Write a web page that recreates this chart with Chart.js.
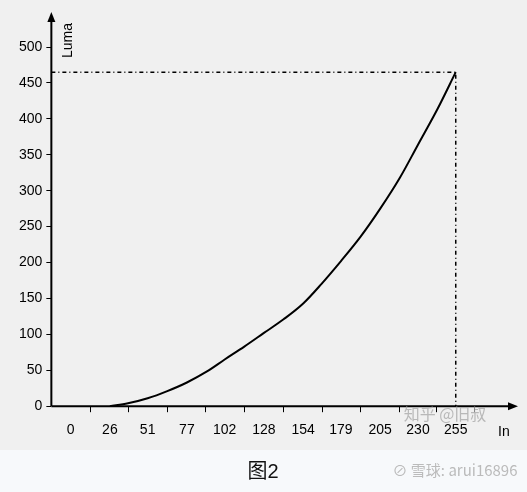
<!DOCTYPE html>
<html><head><meta charset="utf-8">
<script src="https://cdn.jsdelivr.net/npm/chart.js@4/dist/chart.umd.min.js"></script>
<style>
html,body{margin:0;padding:0;background:#f7f9fb;}
#wrap{position:relative;width:527px;height:492px;}
</style></head>
<body><div id="wrap"><canvas id="c" width="527" height="492"></canvas></div>
<script>
const xLabels = [0, 26, 51, 77, 102, 128, 154, 179, 205, 230, 255];
const yTicks = [0, 50, 100, 150, 200, 250, 300, 350, 400, 450, 500];
const inputs = [26, 38, 51, 64, 77, 90, 102, 115, 128, 141, 154, 166, 179, 192, 205, 218, 230, 243, 255];
const luma = [0, 4, 11, 21, 33, 48, 65, 83, 102, 121, 143, 170, 202, 236, 275, 318, 364, 414, 465];
const peakIn = 255, peakLuma = 465;

const decor = {
    id: 'decor',
    beforeDraw(chart) {
        const c = chart.ctx;
        c.save();
        c.fillStyle = '#f0f0f0';
        c.fillRect(0, 0, 527, 450);
        c.restore();
    },
    afterDraw(chart) {
        const c = chart.ctx, x = chart.scales.x, y = chart.scales.y;
        const x0 = chart.chartArea.left, y0 = y.getPixelForValue(0);
        c.save();
        c.strokeStyle = '#000';
        c.lineWidth = 2;
        // axes with arrows
        c.beginPath();
        c.moveTo(x0, y0); c.lineTo(512, y0);
        c.moveTo(x0, y0); c.lineTo(x0, 18);
        c.stroke();
        c.fillStyle = '#000';
        c.beginPath(); c.moveTo(518, y0); c.lineTo(508, y0 - 4); c.lineTo(508, y0 + 4); c.fill();
        c.beginPath(); c.moveTo(x0, 12); c.lineTo(x0 - 4, 22); c.lineTo(x0 + 4, 22); c.fill();
        // dash-dot guides
        const px = x.getPixelForValue(peakIn), py = y.getPixelForValue(peakLuma);
        c.lineWidth = 1.5;
        c.setLineDash([4, 3, 1, 3]);
        c.beginPath();
        c.moveTo(x0, py); c.lineTo(px, py); c.lineTo(px, y0);
        c.stroke();
        c.setLineDash([]);
        // axis names
        c.font = '14px "Liberation Sans", Arial';
        c.fillStyle = '#000';
        c.fillText('In', 498, 436);
        c.translate(72, 58);
        c.rotate(-Math.PI / 2);
        c.fillText('Luma', 0, 0);
        c.restore();
        c.save();
        c.font = '20px "Liberation Sans", "Noto Sans CJK SC"';
        c.fillStyle = '#111';
        c.textAlign = 'center';
        c.fillText('图2', 263, 478);
        c.font = '16px "Noto Sans CJK SC"';
        c.fillStyle = 'rgba(170,170,170,0.8)';
        c.fillText('知乎 @旧叔', 445, 420);
        c.fillStyle = '#bbb';
        c.font = '15px "Noto Sans CJK SC"';
        c.fillText('⊘ 雪球: arui16896', 455, 476);
        c.restore();
    }
};

new Chart(document.getElementById('c'), {
    type: 'line',
    data: {
        datasets: [{
            data: inputs.map((v, i) => ({ x: v, y: luma[i] })),
            borderColor: '#000',
            borderWidth: 2,
            pointRadius: 0,
            cubicInterpolationMode: 'monotone',
            fill: false
        }]
    },
    options: {
        responsive: false,
        animation: false,
        layout: { padding: { left: 15, right: 52, top: 47, bottom: 43 } },
        plugins: { legend: { display: false }, tooltip: { enabled: false } },
        scales: {
            x: {
                type: 'linear',
                min: -12.75, max: 267.75,
                afterBuildTicks: s => { s.ticks = xLabels.map(v => ({ value: v })); },
                grid: { display: true, drawOnChartArea: false, offset: true, tickLength: 6, color: '#000' },
                border: { display: false },
                ticks: { color: '#000', font: { size: 14, family: 'Liberation Sans' }, padding: 10, maxRotation: 0, autoSkip: false }
            },
            y: {
                min: 0, max: 500,
                afterBuildTicks: s => { s.ticks = yTicks.map(v => ({ value: v })); },
                grid: { drawOnChartArea: false, tickLength: 5, color: '#000' },
                border: { display: false },
                ticks: { color: '#000', font: { size: 14, family: 'Liberation Sans' }, padding: 4 }
            }
        }
    },
    plugins: [decor]
});
</script></body></html>
